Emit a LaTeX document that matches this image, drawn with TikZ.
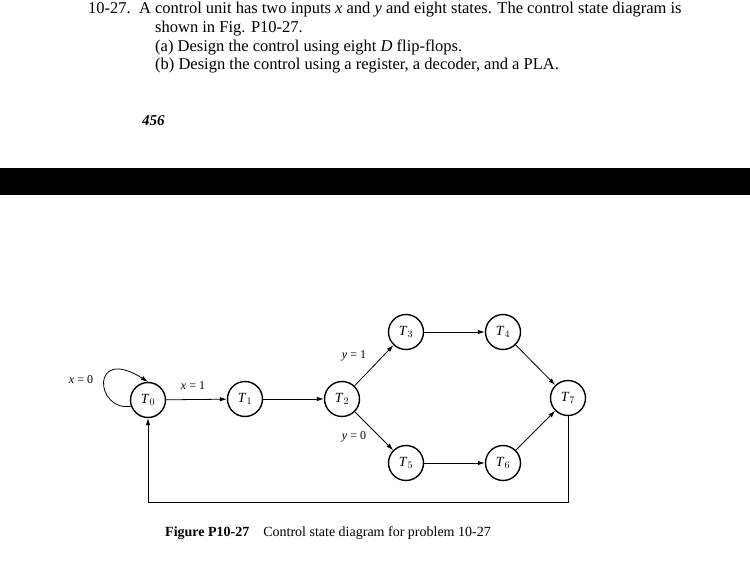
\documentclass[tikz,border=0pt]{standalone}
\usepackage{fontspec}
\setmainfont{Liberation Serif}
\usetikzlibrary{arrows.meta}
\begin{document}
\begin{tikzpicture}[x=1pt,y=-1pt,
  st/.style={circle,draw,line width=1.4pt,minimum size=35pt,inner sep=0pt,font=\fontsize{14}{14}\selectfont},
  tr/.style={-{Latex[length=7pt,width=4.5pt]},line width=0.8pt},
  lb/.style={font=\fontsize{12}{12}\selectfont},
  tx/.style={anchor=west,inner sep=0pt,font=\fontsize{16.5}{16.5}\selectfont}]
\useasboundingbox (0,0) rectangle (750,567);
\fill (0,168) rectangle (750,195);
\node[tx] (h1) at (88,10) {10-27.\ \ A control unit has two inputs \textit{x} and \textit{y} and eight states. The control state diagram is};
\node[tx] (h2) at (155,29) {shown in Fig. P10-27.};
\node[tx] (h3) at (155,47) {(a) Design the control using eight \textit{D} flip-flops.};
\node[tx] (h4) at (155,66) {(b) Design the control using a register, a decoder, and a PLA.};
\node[tx,font=\fontsize{15}{15}\selectfont\bfseries\itshape] (pg) at (142,121) {456};
\node[st] (t0) at (148,400) {\textit{T}$_0$};
\node[st] (t1) at (245,399) {\textit{T}$_1$};
\node[st] (t2) at (342,399) {\textit{T}$_2$};
\node[st] (t3) at (406,332) {\textit{T}$_3$};
\node[st] (t4) at (503,332) {\textit{T}$_4$};
\node[st] (t5) at (406,463) {\textit{T}$_5$};
\node[st] (t6) at (503,463) {\textit{T}$_6$};
\node[st] (t7) at (568,398) {\textit{T}$_7$};
\draw[tr] (t0.200) .. controls (95,412) and (90,345) .. (t0.north);
\draw[tr] (t0) -- (t1);
\draw[tr] (t1) -- (t2);
\draw[tr] (t2) -- (t3);
\draw[tr] (t2) -- (t5);
\draw[tr] (t3) -- (t4);
\draw[tr] (t5) -- (t6);
\draw[tr] (t4) -- (t7);
\draw[tr] (t6) -- (t7);
\coordinate (c1) at (568,502);
\coordinate (c2) at (148,502);
\draw[tr] (t7.south) -- (c1) -- (c2) -- (t0.south);
\node[lb] (l0) at (81,380) {\textit{x} = 0};
\node[lb] (l1) at (193,386) {\textit{x} = 1};
\node[lb] (l2) at (354,356) {\textit{y} = 1};
\node[lb] (l3) at (354,437) {\textit{y} = 0};
\node[tx,font=\fontsize{14}{14}\selectfont] (cap) at (165,533) {\textbf{Figure P10-27}\quad Control state diagram for problem 10-27};
\end{tikzpicture}
\end{document}
